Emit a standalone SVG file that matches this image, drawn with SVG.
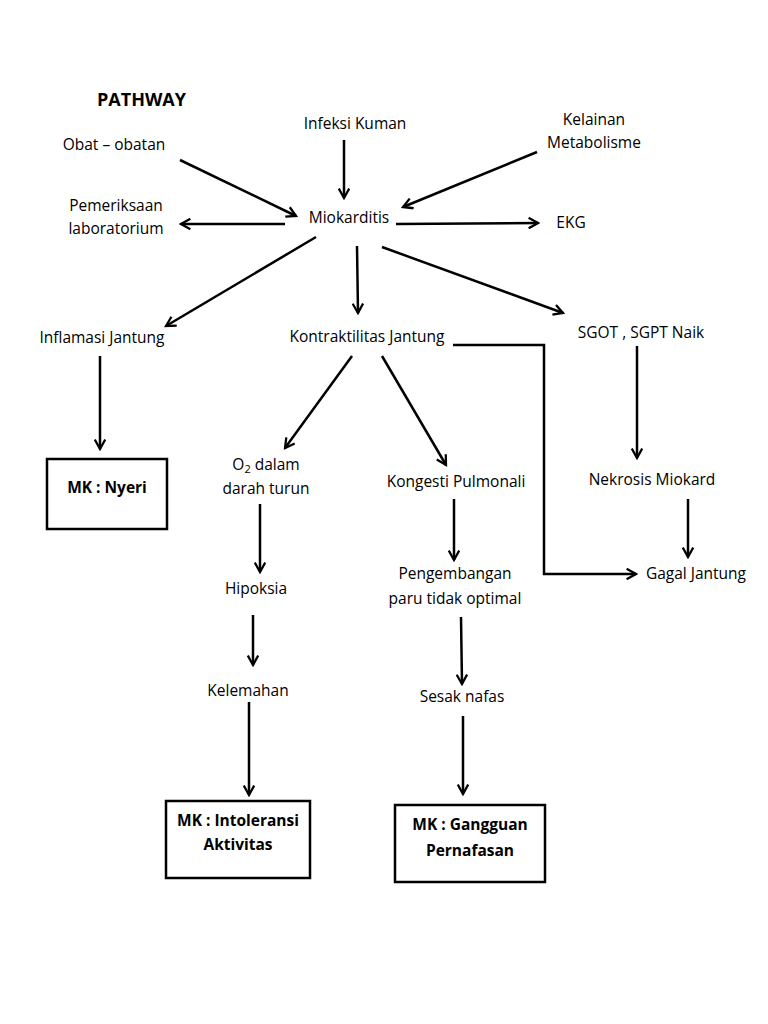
<svg xmlns="http://www.w3.org/2000/svg" width="768" height="1024" viewBox="0 0 768 1024">
<style>
text{font-family:"Open Sans","Noto Sans",sans-serif;font-size:15.5px;fill:#000}
.b{font-weight:bold}
.c{text-anchor:middle}
.box{fill:#fff;stroke:#000;stroke-width:2.5}
#connectors path,#connectors line{fill:none;stroke:#000;stroke-width:2.5;marker-end:url(#ah)}
</style>
<defs>
<marker id="ah" viewBox="0 0 12 12" refX="10" refY="6" markerWidth="5" markerHeight="5" orient="auto" markerUnits="strokeWidth">
<path d="M1,1 L10,6 L1,11" fill="none" stroke="#000" stroke-width="2.2" stroke-linejoin="miter"/>
</marker>
</defs>
<rect width="768" height="1024" fill="#fff"/>
<text id="title" class="b" x="97" y="106" style="font-size:18px">PATHWAY</text>
<g id="n-infeksi"><text class="c" x="355" y="129">Infeksi Kuman</text></g>
<g id="n-obat"><text class="c" x="114" y="150">Obat – obatan</text></g>
<g id="n-kelainan"><text class="c" x="594" y="125">Kelainan</text><text class="c" x="594" y="148">Metabolisme</text></g>
<g id="n-pemeriksaan"><text class="c" x="116" y="211">Pemeriksaan</text><text class="c" x="116" y="234">laboratorium</text></g>
<g id="n-miokarditis"><text class="c" x="349" y="223">Miokarditis</text></g>
<g id="n-ekg"><text class="c" x="571" y="228">EKG</text></g>
<g id="n-inflamasi"><text class="c" x="102" y="343">Inflamasi Jantung</text></g>
<g id="n-kontraktilitas"><text class="c" x="367" y="342">Kontraktilitas Jantung</text></g>
<g id="n-sgot"><text class="c" x="641" y="338">SGOT , SGPT Naik</text></g>
<g id="n-nyeri"><rect class="box" x="47" y="459" width="120" height="70"/><text class="c b" x="107" y="493">MK : Nyeri</text></g>
<g id="n-o2"><text class="c" x="266" y="470">O<tspan style="font-size:11px" dy="3">2</tspan><tspan dy="-3"> dalam</tspan></text><text class="c" x="266" y="494">darah turun</text></g>
<g id="n-kongesti"><text class="c" x="456" y="487">Kongesti Pulmonali</text></g>
<g id="n-nekrosis"><text class="c" x="652" y="485">Nekrosis Miokard</text></g>
<g id="n-hipoksia"><text class="c" x="256" y="594">Hipoksia</text></g>
<g id="n-pengembangan"><text class="c" x="455" y="579">Pengembangan</text><text class="c" x="455" y="604">paru tidak optimal</text></g>
<g id="n-gagal"><text class="c" x="696" y="579">Gagal Jantung</text></g>
<g id="n-kelemahan"><text class="c" x="248" y="696">Kelemahan</text></g>
<g id="n-sesak"><text class="c" x="462" y="702">Sesak nafas</text></g>
<g id="n-intoleransi"><rect class="box" x="166" y="801" width="144" height="77"/><text class="c b" x="238" y="826">MK : Intoleransi</text><text class="c b" x="238" y="850">Aktivitas</text></g>
<g id="n-gangguan"><rect class="box" x="395" y="805" width="150" height="77"/><text class="c b" x="470" y="830">MK : Gangguan</text><text class="c b" x="470" y="856">Pernafasan</text></g>
<g id="connectors">
<line x1="344" y1="140" x2="344" y2="198"/>
<line x1="180" y1="160" x2="296" y2="216"/>
<line x1="537" y1="152" x2="403" y2="207"/>
<line x1="285" y1="224" x2="181" y2="224"/>
<line x1="396" y1="224" x2="538" y2="223"/>
<line x1="316" y1="237" x2="166" y2="326"/>
<line x1="357" y1="246" x2="358" y2="313"/>
<line x1="382" y1="247" x2="563" y2="313"/>
<line x1="100" y1="356" x2="100" y2="449"/>
<line x1="352" y1="356" x2="285" y2="448"/>
<line x1="382" y1="356" x2="446" y2="465"/>
<path d="M453,345 H544 V574 H636"/>
<line x1="637" y1="346" x2="637" y2="458"/>
<line x1="688" y1="499" x2="688" y2="557"/>
<line x1="260" y1="504" x2="260" y2="572"/>
<line x1="253" y1="615" x2="253" y2="665"/>
<line x1="249" y1="702" x2="249" y2="795"/>
<line x1="454" y1="499" x2="454" y2="560"/>
<line x1="461" y1="617" x2="462" y2="684"/>
<line x1="463" y1="716" x2="463" y2="794"/>
</g>
</svg>
